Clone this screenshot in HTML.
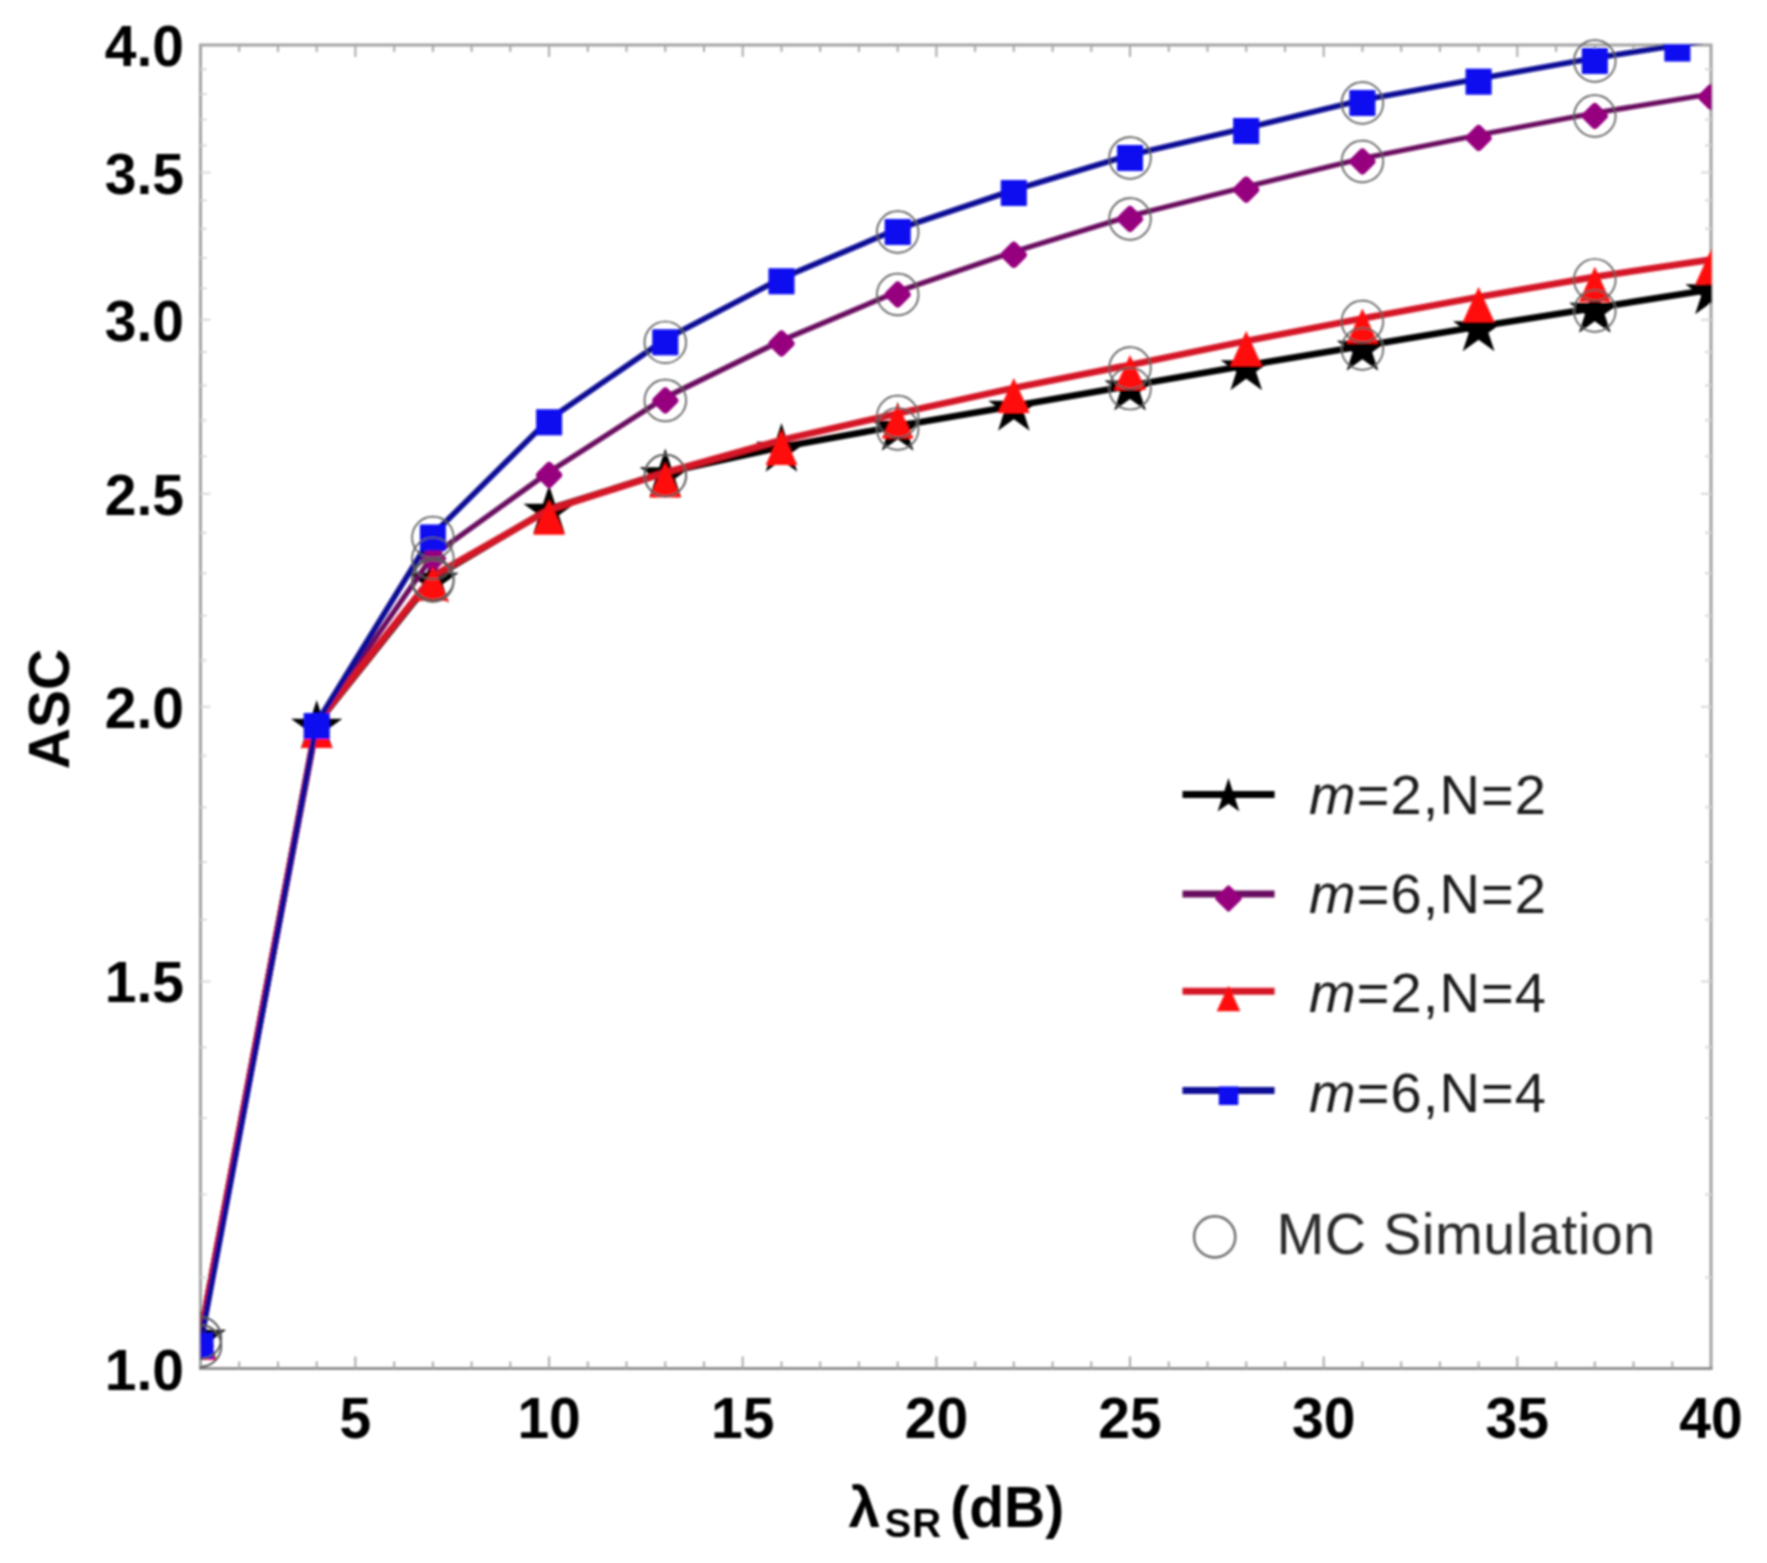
<!DOCTYPE html><html><head><meta charset="utf-8"><title>ASC</title><style>html,body{margin:0;padding:0;background:#fff}svg{display:block}text{font-family:"Liberation Sans",Arial,sans-serif}</style></head><body>
<svg width="1767" height="1563" viewBox="0 0 1767 1563">
<defs><clipPath id="c"><rect x="200.5" y="44.0" width="1511.5" height="1324.5"/></clipPath><clipPath id="c2"><rect x="200.5" y="37.0" width="1511.5" height="1331.5"/></clipPath><filter id="b" x="-5%" y="-5%" width="110%" height="110%"><feGaussianBlur stdDeviation="0.9"/></filter></defs>
<rect width="1767" height="1563" fill="#fff"/>
<g filter="url(#b)">
<path d="M200.5 1368.5V45.0H1711.0V1368.5" stroke="#a2a2a2" stroke-width="3" fill="none"/>
<path d="M199.0 1368.5H1712.5" stroke="#7c7c7c" stroke-width="2.6" fill="none"/>
<path d="M239.2 1368.5v-7 M239.2 45.0v7 M278.0 1368.5v-7 M278.0 45.0v7 M316.7 1368.5v-7 M316.7 45.0v7 M355.4 1368.5v-12 M355.4 45.0v12 M394.2 1368.5v-7 M394.2 45.0v7 M432.9 1368.5v-7 M432.9 45.0v7 M471.6 1368.5v-7 M471.6 45.0v7 M510.3 1368.5v-7 M510.3 45.0v7 M549.1 1368.5v-12 M549.1 45.0v12 M587.8 1368.5v-7 M587.8 45.0v7 M626.5 1368.5v-7 M626.5 45.0v7 M665.3 1368.5v-7 M665.3 45.0v7 M704.0 1368.5v-7 M704.0 45.0v7 M742.7 1368.5v-12 M742.7 45.0v12 M781.5 1368.5v-7 M781.5 45.0v7 M820.2 1368.5v-7 M820.2 45.0v7 M858.9 1368.5v-7 M858.9 45.0v7 M897.7 1368.5v-7 M897.7 45.0v7 M936.4 1368.5v-12 M936.4 45.0v12 M975.1 1368.5v-7 M975.1 45.0v7 M1013.8 1368.5v-7 M1013.8 45.0v7 M1052.6 1368.5v-7 M1052.6 45.0v7 M1091.3 1368.5v-7 M1091.3 45.0v7 M1130.0 1368.5v-12 M1130.0 45.0v12 M1168.8 1368.5v-7 M1168.8 45.0v7 M1207.5 1368.5v-7 M1207.5 45.0v7 M1246.2 1368.5v-7 M1246.2 45.0v7 M1285.0 1368.5v-7 M1285.0 45.0v7 M1323.7 1368.5v-12 M1323.7 45.0v12 M1362.4 1368.5v-7 M1362.4 45.0v7 M1401.2 1368.5v-7 M1401.2 45.0v7 M1439.9 1368.5v-7 M1439.9 45.0v7 M1478.6 1368.5v-7 M1478.6 45.0v7 M1517.3 1368.5v-12 M1517.3 45.0v12 M1556.1 1368.5v-7 M1556.1 45.0v7 M1594.8 1368.5v-7 M1594.8 45.0v7 M1633.5 1368.5v-7 M1633.5 45.0v7 M1672.3 1368.5v-7 M1672.3 45.0v7" stroke="#a8a8a8" stroke-width="2" fill="none"/>
<path d="M200.5 1277.5h6 M1711.0 1277.5h-6 M200.5 1194.4h6 M1711.0 1194.4h-6 M200.5 1118.0h6 M1711.0 1118.0h-6 M200.5 1047.3h6 M1711.0 1047.3h-6 M200.5 981.4h10 M1711.0 981.4h-10 M200.5 919.8h6 M1711.0 919.8h-6 M200.5 861.9h6 M1711.0 861.9h-6 M200.5 807.3h6 M1711.0 807.3h-6 M200.5 755.7h6 M1711.0 755.7h-6 M200.5 706.8h10 M1711.0 706.8h-10 M200.5 660.2h6 M1711.0 660.2h-6 M200.5 615.8h6 M1711.0 615.8h-6 M200.5 573.3h6 M1711.0 573.3h-6 M200.5 532.7h6 M1711.0 532.7h-6 M200.5 493.7h10 M1711.0 493.7h-10 M200.5 456.3h6 M1711.0 456.3h-6 M200.5 420.2h6 M1711.0 420.2h-6 M200.5 385.5h6 M1711.0 385.5h-6 M200.5 352.0h6 M1711.0 352.0h-6 M200.5 319.7h10 M1711.0 319.7h-10 M200.5 288.3h6 M1711.0 288.3h-6 M200.5 258.0h6 M1711.0 258.0h-6 M200.5 228.7h6 M1711.0 228.7h-6 M200.5 200.2h6 M1711.0 200.2h-6 M200.5 172.5h10 M1711.0 172.5h-10 M200.5 145.6h6 M1711.0 145.6h-6 M200.5 119.4h6 M1711.0 119.4h-6 M200.5 94.0h6 M1711.0 94.0h-6 M200.5 69.2h6 M1711.0 69.2h-6" stroke="#d8d8d8" stroke-width="2" fill="none"/>
<g clip-path="url(#c)">
<polyline points="200.5,1335.0 316.7,724.0 432.9,578.0 549.1,509.0 665.3,472.5 781.5,447.0 897.7,426.0 1013.8,406.0 1130.0,385.7 1246.2,365.5 1362.4,346.0 1478.6,326.5 1594.8,308.0 1711.0,289.5" fill="none" stroke="#000" stroke-width="6.6" stroke-linejoin="round"/>
<g fill="#000">
<polygon points="200.5,1311.0 206.6,1329.7 226.2,1329.7 210.3,1341.2 216.4,1359.8 200.5,1348.3 184.6,1359.8 190.7,1341.2 174.8,1329.7 194.4,1329.7"/>
<polygon points="316.7,700.0 322.8,718.7 342.4,718.7 326.5,730.2 332.6,748.8 316.7,737.3 300.8,748.8 306.9,730.2 291.0,718.7 310.6,718.7"/>
<polygon points="432.9,554.0 438.9,572.7 458.6,572.7 442.7,584.2 448.8,602.8 432.9,591.3 417.0,602.8 423.1,584.2 407.2,572.7 426.8,572.7"/>
<polygon points="549.1,485.0 555.1,503.7 574.8,503.7 558.9,515.2 564.9,533.8 549.1,522.3 533.2,533.8 539.3,515.2 523.4,503.7 543.0,503.7"/>
<polygon points="665.3,448.5 671.3,467.2 690.9,467.2 675.1,478.7 681.1,497.3 665.3,485.8 649.4,497.3 655.5,478.7 639.6,467.2 659.2,467.2"/>
<polygon points="781.5,423.0 787.5,441.7 807.1,441.7 791.3,453.2 797.3,471.8 781.5,460.3 765.6,471.8 771.7,453.2 755.8,441.7 775.4,441.7"/>
<polygon points="897.7,402.0 903.7,420.7 923.3,420.7 907.5,432.2 913.5,450.8 897.7,439.3 881.8,450.8 887.8,432.2 872.0,420.7 891.6,420.7"/>
<polygon points="1013.8,382.0 1019.9,400.7 1039.5,400.7 1023.7,412.2 1029.7,430.8 1013.8,419.3 998.0,430.8 1004.0,412.2 988.2,400.7 1007.8,400.7"/>
<polygon points="1130.0,361.7 1136.1,380.4 1155.7,380.4 1139.8,391.9 1145.9,410.5 1130.0,399.0 1114.2,410.5 1120.2,391.9 1104.4,380.4 1124.0,380.4"/>
<polygon points="1246.2,341.5 1252.3,360.2 1271.9,360.2 1256.0,371.7 1262.1,390.3 1246.2,378.8 1230.4,390.3 1236.4,371.7 1220.6,360.2 1240.2,360.2"/>
<polygon points="1362.4,322.0 1368.5,340.7 1388.1,340.7 1372.2,352.2 1378.3,370.8 1362.4,359.3 1346.6,370.8 1352.6,352.2 1336.7,340.7 1356.4,340.7"/>
<polygon points="1478.6,302.5 1484.7,321.2 1504.3,321.2 1488.4,332.7 1494.5,351.3 1478.6,339.8 1462.7,351.3 1468.8,332.7 1452.9,321.2 1472.6,321.2"/>
<polygon points="1594.8,284.0 1600.9,302.7 1620.5,302.7 1604.6,314.2 1610.7,332.8 1594.8,321.3 1578.9,332.8 1585.0,314.2 1569.1,302.7 1588.7,302.7"/>
<polygon points="1711.0,265.5 1717.1,284.2 1736.7,284.2 1720.8,295.7 1726.9,314.3 1711.0,302.8 1695.1,314.3 1701.2,295.7 1685.3,284.2 1704.9,284.2"/>
</g>
<polyline points="200.5,1343.0 316.7,723.0 432.9,555.5 549.1,472.0 665.3,397.5 781.5,340.5 897.7,291.5 1013.8,251.8 1130.0,216.0 1246.2,186.7 1362.4,158.5 1478.6,135.0 1594.8,113.0 1711.0,94.0" fill="none" stroke="#6a1060" stroke-width="5.3" stroke-linejoin="round"/>
<g fill="#96007e" stroke="#96007e" stroke-width="8" stroke-linejoin="round">
<polygon points="200.5,1337.0 209.5,1346.0 200.5,1355.0 191.5,1346.0"/>
<polygon points="316.7,717.0 325.7,726.0 316.7,735.0 307.7,726.0"/>
<polygon points="432.9,549.5 441.9,558.5 432.9,567.5 423.9,558.5"/>
<polygon points="549.1,466.0 558.1,475.0 549.1,484.0 540.1,475.0"/>
<polygon points="665.3,391.5 674.3,400.5 665.3,409.5 656.3,400.5"/>
<polygon points="781.5,334.5 790.5,343.5 781.5,352.5 772.5,343.5"/>
<polygon points="897.7,285.5 906.7,294.5 897.7,303.5 888.7,294.5"/>
<polygon points="1013.8,245.8 1022.8,254.8 1013.8,263.8 1004.8,254.8"/>
<polygon points="1130.0,210.0 1139.0,219.0 1130.0,228.0 1121.0,219.0"/>
<polygon points="1246.2,180.7 1255.2,189.7 1246.2,198.7 1237.2,189.7"/>
<polygon points="1362.4,152.5 1371.4,161.5 1362.4,170.5 1353.4,161.5"/>
<polygon points="1478.6,129.0 1487.6,138.0 1478.6,147.0 1469.6,138.0"/>
<polygon points="1594.8,107.0 1603.8,116.0 1594.8,125.0 1585.8,116.0"/>
<polygon points="1711.0,88.0 1720.0,97.0 1711.0,106.0 1702.0,97.0"/>
</g>
<polyline points="200.5,1335.0 316.7,723.0 432.9,576.0 549.1,509.7 665.3,472.5 781.5,440.0 897.7,413.5 1013.8,388.0 1130.0,365.0 1246.2,341.0 1362.4,318.5 1478.6,297.0 1594.8,276.8 1711.0,259.6" fill="none" stroke="#d41828" stroke-width="6.8" stroke-linejoin="round"/>
<g fill="#ff0a0a">
<polygon points="200.5,1325.0 216.3,1360.0 184.7,1360.0"/>
<polygon points="316.7,713.0 332.5,748.0 300.9,748.0"/>
<polygon points="432.9,566.0 448.7,601.0 417.1,601.0"/>
<polygon points="549.1,499.7 564.9,534.7 533.3,534.7"/>
<polygon points="665.3,462.5 681.1,497.5 649.5,497.5"/>
<polygon points="781.5,430.0 797.3,465.0 765.7,465.0"/>
<polygon points="897.7,403.5 913.5,438.5 881.9,438.5"/>
<polygon points="1013.8,378.0 1029.6,413.0 998.0,413.0"/>
<polygon points="1130.0,355.0 1145.8,390.0 1114.2,390.0"/>
<polygon points="1246.2,331.0 1262.0,366.0 1230.4,366.0"/>
<polygon points="1362.4,308.5 1378.2,343.5 1346.6,343.5"/>
<polygon points="1478.6,287.0 1494.4,322.0 1462.8,322.0"/>
<polygon points="1594.8,266.8 1610.6,301.8 1579.0,301.8"/>
<polygon points="1711.0,249.6 1726.8,284.6 1695.2,284.6"/>
</g>
<polyline points="200.5,1343.0 316.7,723.0 432.9,534.5 549.1,419.3 665.3,339.3 781.5,278.3 897.7,229.0 1013.8,190.0 1130.0,155.0 1246.2,128.0 1362.4,100.0 1478.6,78.7 1594.8,58.0 1711.0,40.0" fill="none" stroke="#0c0c96" stroke-width="5.7" stroke-linejoin="round"/>
<g fill="#0808f0">
<rect x="187.5" y="1333.0" width="26.0" height="26.0"/>
<rect x="303.7" y="713.0" width="26.0" height="26.0"/>
<rect x="419.9" y="524.5" width="26.0" height="26.0"/>
<rect x="536.1" y="409.3" width="26.0" height="26.0"/>
<rect x="652.3" y="329.3" width="26.0" height="26.0"/>
<rect x="768.5" y="268.3" width="26.0" height="26.0"/>
<rect x="884.7" y="219.0" width="26.0" height="26.0"/>
<rect x="1000.8" y="180.0" width="26.0" height="26.0"/>
<rect x="1117.0" y="145.0" width="26.0" height="26.0"/>
<rect x="1233.2" y="118.0" width="26.0" height="26.0"/>
<rect x="1349.4" y="90.0" width="26.0" height="26.0"/>
<rect x="1465.6" y="68.7" width="26.0" height="26.0"/>
<rect x="1581.8" y="48.0" width="26.0" height="26.0"/>
<rect x="1664.4" y="35.5" width="26.0" height="26.0"/>
</g>
</g><g clip-path="url(#c2)">
<g fill="none" stroke="#5a5a5a" stroke-width="1.7">
<circle cx="200.5" cy="1338.0" r="20.8"/>
<circle cx="200.5" cy="1346.0" r="20.8"/>
<circle cx="200.5" cy="1338.0" r="20.8"/>
<circle cx="200.5" cy="1346.0" r="20.8"/>
<circle cx="432.9" cy="581.0" r="20.8"/>
<circle cx="432.9" cy="558.5" r="20.8"/>
<circle cx="432.9" cy="579.0" r="20.8"/>
<circle cx="432.9" cy="537.5" r="20.8"/>
<circle cx="665.3" cy="475.5" r="20.8"/>
<circle cx="665.3" cy="400.5" r="20.8"/>
<circle cx="665.3" cy="475.5" r="20.8"/>
<circle cx="665.3" cy="342.3" r="20.8"/>
<circle cx="897.7" cy="429.0" r="20.8"/>
<circle cx="897.7" cy="294.5" r="20.8"/>
<circle cx="897.7" cy="416.5" r="20.8"/>
<circle cx="897.7" cy="232.0" r="20.8"/>
<circle cx="1130.0" cy="388.7" r="20.8"/>
<circle cx="1130.0" cy="219.0" r="20.8"/>
<circle cx="1130.0" cy="368.0" r="20.8"/>
<circle cx="1130.0" cy="158.0" r="20.8"/>
<circle cx="1362.4" cy="349.0" r="20.8"/>
<circle cx="1362.4" cy="161.5" r="20.8"/>
<circle cx="1362.4" cy="321.5" r="20.8"/>
<circle cx="1362.4" cy="103.0" r="20.8"/>
<circle cx="1594.8" cy="311.0" r="20.8"/>
<circle cx="1594.8" cy="116.0" r="20.8"/>
<circle cx="1594.8" cy="279.8" r="20.8"/>
<circle cx="1594.8" cy="61.0" r="20.8"/>
</g>
</g>
<line x1="1182.5" x2="1274.6" y1="794.6" y2="794.6" stroke="#000" stroke-width="7"/>
<g fill="#000">
<polygon points="1228.5,778.1 1232.7,790.9 1246.1,790.9 1235.2,798.8 1239.4,811.6 1228.5,803.7 1217.6,811.6 1221.8,798.8 1210.9,790.9 1224.3,790.9"/>
</g>
<line x1="1182.5" x2="1274.6" y1="894.0" y2="894.0" stroke="#6a1060" stroke-width="7"/>
<g fill="#96007e" stroke="#96007e" stroke-width="4" stroke-linejoin="round">
<polygon points="1228.5,887.3 1239.7,898.5 1228.5,909.7 1217.3,898.5"/>
</g>
<line x1="1182.5" x2="1274.6" y1="991.2" y2="991.2" stroke="#d41828" stroke-width="7"/>
<g fill="#ff0a0a">
<polygon points="1228.5,985.7 1240.3,1011.2 1216.7,1011.2"/>
</g>
<line x1="1182.5" x2="1274.6" y1="1090.5" y2="1090.5" stroke="#0c0c96" stroke-width="7"/>
<g fill="#0808f0">
<rect x="1218.8" y="1086.5" width="19.5" height="18.5"/>
</g>
<circle cx="1214.7" cy="1236.9" r="20.6" fill="none" stroke="#6a6a6a" stroke-width="2.4"/>
<g fill="#1c1c1c" font-size="56">
<text x="1309" y="814.0" letter-spacing="1.1"><tspan font-style="italic">m</tspan>=2,N=2</text>
<text x="1309" y="913.4" letter-spacing="1.1"><tspan font-style="italic">m</tspan>=6,N=2</text>
<text x="1309" y="1012.0" letter-spacing="1.1"><tspan font-style="italic">m</tspan>=2,N=4</text>
<text x="1309" y="1111.5" letter-spacing="1.1"><tspan font-style="italic">m</tspan>=6,N=4</text>
</g>
<text x="1276.5" y="1253.5" font-size="57.5" letter-spacing="0.4" fill="#2a2a2a">MC Simulation</text>
<g font-weight="bold" font-size="57" fill="#000">
<text x="184" y="1389.5" text-anchor="end">1.0</text>
<text x="184" y="1002.4" text-anchor="end">1.5</text>
<text x="184" y="727.8" text-anchor="end">2.0</text>
<text x="184" y="514.7" text-anchor="end">2.5</text>
<text x="184" y="340.7" text-anchor="end">3.0</text>
<text x="184" y="193.5" text-anchor="end">3.5</text>
<text x="184" y="66.0" text-anchor="end">4.0</text>
<text x="355.4" y="1437.5" text-anchor="middle">5</text>
<text x="549.1" y="1437.5" text-anchor="middle">10</text>
<text x="742.7" y="1437.5" text-anchor="middle">15</text>
<text x="936.4" y="1437.5" text-anchor="middle">20</text>
<text x="1130.0" y="1437.5" text-anchor="middle">25</text>
<text x="1323.7" y="1437.5" text-anchor="middle">30</text>
<text x="1517.3" y="1437.5" text-anchor="middle">35</text>
<text x="1711.0" y="1437.5" text-anchor="middle">40</text>
<text transform="translate(69,709) rotate(-90)" text-anchor="middle">ASC</text>
<text x="848.6" y="1527">λ</text><text x="884.6" y="1537" font-size="40" letter-spacing="1">SR</text><text x="950.3" y="1527">(dB)</text>
</g>
</g>
</svg></body></html>
